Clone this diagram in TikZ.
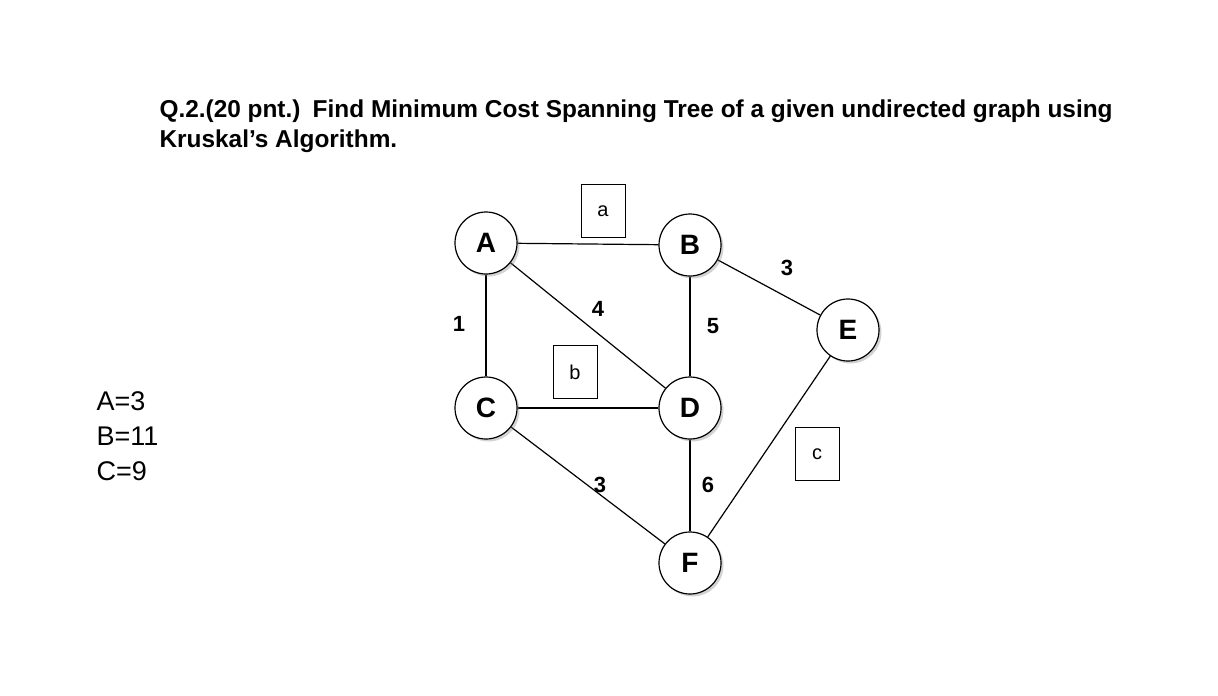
\documentclass[tikz,border=0pt]{standalone}
\usepackage{fontspec}
\setmainfont{Liberation Sans}
\usetikzlibrary{shadows,backgrounds}
\begin{document}
\begin{tikzpicture}[x=1pt,y=-1pt,
  vert/.style={circle,draw,line width=1.2pt,minimum size=62pt,inner sep=0pt,fill=white,font=\fontsize{28}{28}\selectfont\bfseries,
    drop shadow={shadow xshift=2.5pt,shadow yshift=-2.5pt,opacity=0.35}},
  edge/.style={line width=1.2pt},
  wt/.style={font=\fontsize{22}{22}\selectfont\bfseries},
  lbox/.style={draw,line width=0.8pt,minimum width=44pt,minimum height=53pt,inner sep=0pt,font=\fontsize{20}{20}\selectfont},
  side/.style={font=\fontsize{27}{27}\selectfont,anchor=west}]
\useasboundingbox (0,0) rectangle (1218,696);
\node[anchor=west,font=\fontsize{24.4}{24.4}\selectfont\bfseries] (t1) at (156,111) {Q.2.(20 pnt.)\enspace Find Minimum Cost Spanning Tree of a given undirected graph using};
\node[anchor=west,font=\fontsize{24.4}{24.4}\selectfont\bfseries] (t2) at (156,141) {Kruskal’s Algorithm.};
\node[lbox] (a) at (603,211) {a};
\node[lbox] (b) at (575,372) {b};
\node[lbox] (c) at (817,454) {c};
\node[vert] (A) at (486,243) {A};
\node[vert] (B) at (690,245) {B};
\node[vert] (C) at (486,408) {C};
\node[vert] (D) at (690,408) {D};
\node[vert] (E) at (848,330) {E};
\node[vert] (F) at (690,563) {F};
\begin{pgfonlayer}{background}
\draw[edge] (A) -- (B);
\draw[edge] (A) -- (C);
\draw[edge] (A) -- (D);
\draw[edge] (B) -- (D);
\draw[edge] (B) -- (E);
\draw[edge] (C) -- (D);
\draw[edge] (C) -- (F);
\draw[edge] (D) -- (F);
\draw[edge] (E) -- (F);
\end{pgfonlayer}
\node[wt] (w1) at (459,324) {1};
\node[wt] (w4) at (598,309) {4};
\node[wt] (w5) at (713,326) {5};
\node[wt] (w3a) at (787,268) {3};
\node[wt] (w3b) at (600,485) {3};
\node[wt] (w6) at (708,485) {6};
\node[side] (sa) at (93,401) {A=3};
\node[side] (sb) at (93,436) {B=11};
\node[side] (sc) at (93,471) {C=9};
\end{tikzpicture}
\end{document}
